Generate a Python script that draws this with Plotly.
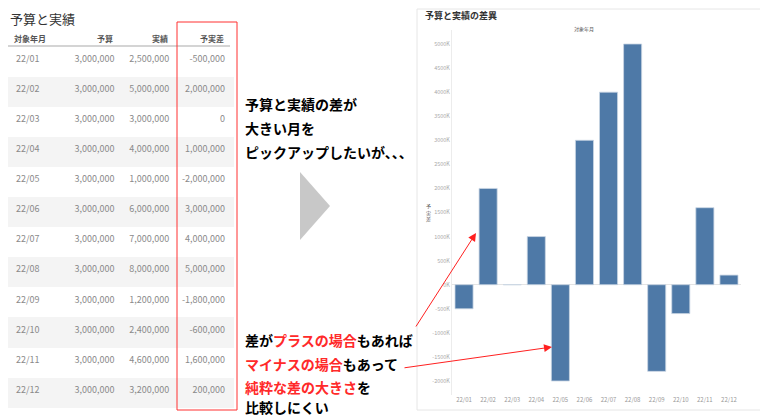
import plotly.graph_objects as go

months = ["22/01", "22/02", "22/03", "22/04", "22/05", "22/06",
          "22/07", "22/08", "22/09", "22/10", "22/11", "22/12"]
budget = [3000000] * 12
actual = [2500000, 5000000, 3000000, 4000000, 1000000, 6000000,
          7000000, 8000000, 1200000, 2400000, 4600000, 3200000]
diff = [a - b for a, b in zip(actual, budget)]
columns = ["対象年月", "予算", "実績", "予実差"]

y_ticks = [-2000000, -1500000, -1000000, -500000, 0, 500000, 1000000, 1500000,
           2000000, 2500000, 3000000, 3500000, 4000000, 4500000, 5000000]
y_ticktext = [f"{v // 1000}K" for v in y_ticks]

# the page body has an 8px margin, so the figure is drawn 8px in from the corner
OFF = 8
W, H = 768 - OFF, 417 - OFF
FONT = "Noto Sans CJK JP"


def px(x):
    return (x - OFF) / W


def py(y):
    return 1 - (y - OFF) / H


fig = go.Figure()

# left table (header labels are drawn as annotations below)
row_fill = ["white" if i % 2 == 0 else "#f4f4f4" for i in range(len(months))]
fig.add_trace(go.Table(
    domain=dict(x=[px(8), px(234)], y=[py(408), py(46)]),
    columnwidth=[60, 55, 55, 56],
    header=dict(values=["", "", "", ""], height=1,
                fill_color="white", line_color="white",
                font=dict(size=1, color="white")),
    cells=dict(
        values=[months,
                [f"{v:,}" for v in budget],
                [f"{v:,}" for v in actual],
                [f"{v:,}" for v in diff]],
        align=["left", "right", "right", "right"],
        fill_color=[row_fill] * 4,
        line_color=[row_fill] * 4,
        font=dict(family=FONT, size=9, color="#8a8a8a"),
        height=30.1,
    ),
))

# bar chart
fig.add_trace(go.Bar(
    x=months, y=diff,
    marker=dict(color="#4e79a7", line=dict(color="#c9d5e3", width=0.8)),
    xaxis="x", yaxis="y",
))

fig.update_layout(
    width=W, height=H,
    margin=dict(l=0, r=0, t=0, b=0),
    paper_bgcolor="white", plot_bgcolor="white",
    showlegend=False,
    bargap=0.25,
    font=dict(family=FONT),
    xaxis=dict(
        domain=[px(452), px(741)],
        anchor="y",
        showgrid=False, zeroline=False, showline=False,
        tickfont=dict(size=6, color="#999"),
        ticks="",
        fixedrange=True,
    ),
    yaxis=dict(
        domain=[py(395), py(30)],
        anchor="x",
        range=[-2291000, 5291000],
        tickvals=y_ticks, ticktext=y_ticktext,
        tickfont=dict(size=5.5, color="#aaa"),
        showgrid=False,
        zeroline=True, zerolinecolor="#e4e4e4", zerolinewidth=1,
        showline=True, linecolor="#ececec", linewidth=1,
        ticks="",
    ),
)

shapes = [
    # header underline
    dict(type="line", x0=px(8), x1=px(230), y0=py(46), y1=py(46),
         line=dict(color="#d4d4d4", width=2)),
    # red highlight box
    dict(type="rect", x0=px(177), x1=px(237), y0=py(22), y1=py(410),
         line=dict(color="#ff3030", width=1)),
    # grey triangle
    dict(type="path",
         path=f"M {px(300)},{py(172)} L {px(330)},{py(206)} L {px(300)},{py(240)} Z",
         fillcolor="#c8c8c8", line=dict(width=0)),
    # right panel border
    dict(type="rect", x0=px(417), x1=px(767), y0=py(9), y1=py(410),
         line=dict(color="#e6e6e6", width=1)),
]
for s in shapes:
    s.setdefault("xref", "paper")
    s.setdefault("yref", "paper")
    s["layer"] = "above"
fig.update_layout(shapes=shapes)

RED = "#ff2a2a"


def red(t):
    return f"<span style='color:{RED}'>{t}</span>"


notes = [
    (8, 18.5, "予算と実績", 13, "#333"),
    (423, 15, "<b>予算と実績の差異</b>", 9, "#333"),
    (243, 104, "<b>予算と実績の差が</b>", 14, "black"),
    (243, 128, "<b>大きい月を</b>", 14, "black"),
    (243, 152, "<b>ピックアップしたいが、、、</b>", 14, "black"),
    (243, 340, "<b>差が" + red("プラスの場合") + "もあれば</b>", 14, "black"),
    (243, 364, "<b>" + red("マイナスの場合") + "もあって</b>", 14, "black"),
    (243, 387, "<b>" + red("純粋な差の大きさ") + "を</b>", 14, "black"),
    (243, 407, "<b>比較しにくい</b>", 14, "black"),
]
annotations = []
for x, y, t, size, color in notes:
    annotations.append(dict(
        x=px(x), y=py(y), xref="paper", yref="paper", text=t,
        xanchor="left", yanchor="middle", showarrow=False,
        font=dict(family=FONT, size=size, color=color),
    ))

# table header labels
for name, x, anchor in zip(columns, [12, 115, 170, 226], ["left", "right", "right", "right"]):
    annotations.append(dict(
        x=px(x), y=py(39), xref="paper", yref="paper", text=f"<b>{name}</b>",
        xanchor=anchor, yanchor="middle", showarrow=False,
        font=dict(family=FONT, size=8, color="#555"),
    ))

annotations.append(dict(
    x=px(596), y=py(23), xref="paper", yref="paper", text="対象年月",
    showarrow=False, font=dict(family=FONT, size=5, color="#555"),
))
annotations.append(dict(
    x=px(428), y=py(212), xref="paper", yref="paper", text="予<br>実<br>差",
    showarrow=False, font=dict(family=FONT, size=5, color="#555"),
))

# red arrows
for tip, tail in [((476, 233), (415, 328)), ((552, 347), (403, 368))]:
    annotations.append(dict(
        x=px(tip[0]), y=py(tip[1]), xref="paper", yref="paper", text="",
        showarrow=True, ax=tail[0] - tip[0], ay=tail[1] - tip[1],
        arrowcolor="#ff2020", arrowwidth=1, arrowhead=2, arrowsize=1.6,
    ))
fig.update_layout(annotations=annotations)

fig.write_html("out.html")
